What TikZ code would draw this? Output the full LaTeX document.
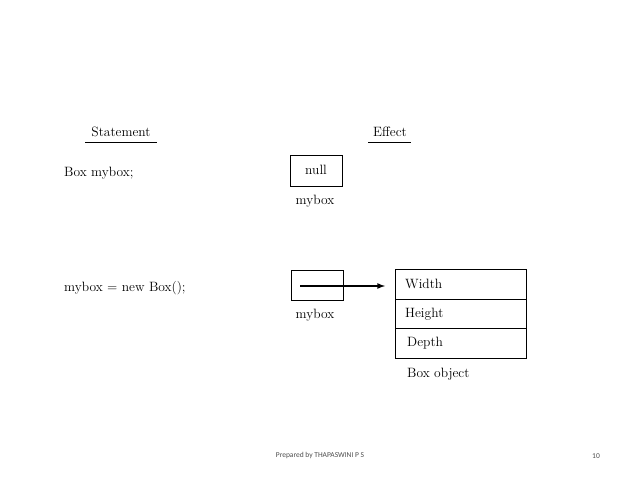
\documentclass[tikz,border=0pt]{standalone}
\usepackage{fontspec}
\newfontfamily\footfont{Carlito}
\begin{document}
\begin{tikzpicture}[x=1pt,y=-1pt,
  txt/.style={font=\fontsize{13.5}{15}\selectfont, inner sep=0pt},
  cell/.style={draw, line width=0.9pt},
  foot/.style={font=\footfont\fontsize{7.5}{9}\selectfont, text=black!70, inner sep=0pt}]
\useasboundingbox (0,0) rectangle (638,478);
\node[txt] (st) at (121,132) {Statement};
\draw[line width=0.8pt] (85,142) -- (157,142);
\node[txt] (ef) at (390,132) {Effect};
\draw[line width=0.8pt] (368,142) -- (411,142);
\node[txt, anchor=west] (s1) at (64,173) {Box mybox;};
\draw[cell] (290,155) rectangle (342,186);
\node[txt] (null) at (316,170) {null};
\node[txt] (m1) at (315,201) {mybox};
\node[txt, anchor=west] (s2) at (64,288) {mybox = new Box();};
\draw[cell] (291,270) rectangle (343,300);
\coordinate (ref) at (300,286);
\draw[cell] (395,269) rectangle (526,358);
\draw[line width=0.9pt] (395,299) -- (526,299);
\draw[line width=0.9pt] (395,328) -- (526,328);
\coordinate (obj) at (385,286);
\draw[line width=1.6pt,-latex] (ref) -- (obj);
\node[txt] (m2) at (315,315) {mybox};
\node[txt, anchor=west] (w) at (405,284) {Width};
\node[txt, anchor=west] (h) at (405,314) {Height};
\node[txt, anchor=west] (d) at (407,343) {Depth};
\node[txt, anchor=west] (bo) at (407,374) {Box object};
\node[foot] (f) at (320,456) {Prepared by THAPASWINI P S};
\node[foot] (n) at (596,456) {10};
\end{tikzpicture}
\end{document}
